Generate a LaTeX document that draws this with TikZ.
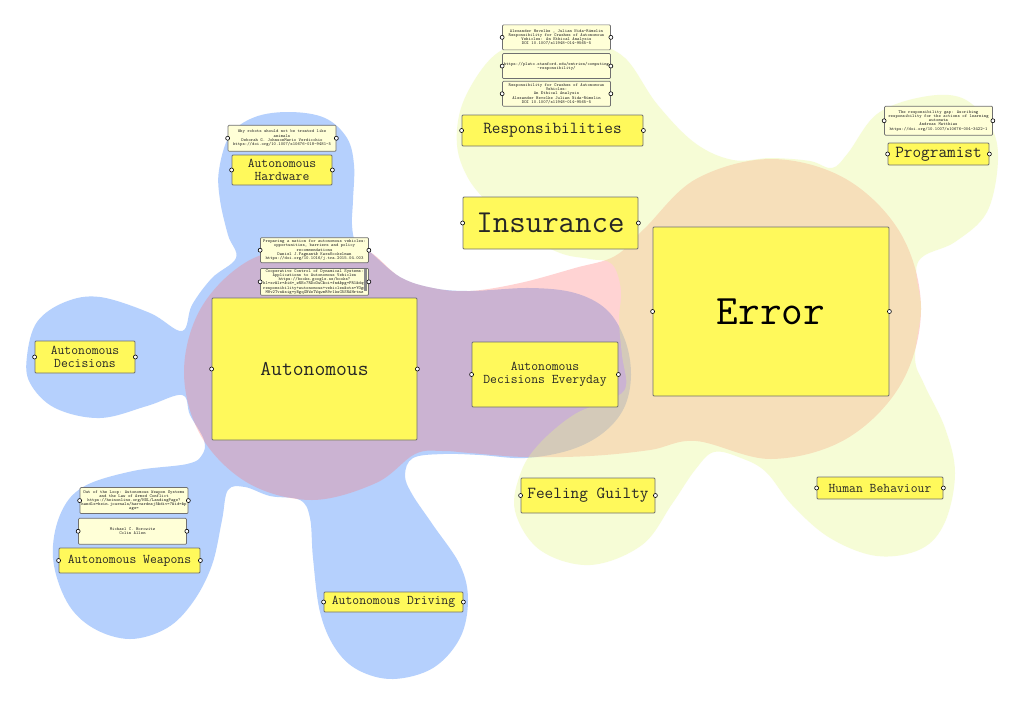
\documentclass[tikz,border=0pt]{standalone}
\usepackage{fontspec}
\usetikzlibrary{positioning}
\definecolor{blobblue}{HTML}{B5D0FD}
\definecolor{blobpink}{HTML}{FF7474}
\definecolor{blobgreen}{HTML}{E6F78C}
\definecolor{topicyellow}{HTML}{FFF95B}
\definecolor{citeyellow}{HTML}{FFFFD7}
\definecolor{edgegrey}{HTML}{707070}
\definecolor{inkgrey}{HTML}{262626}
\definecolor{scrollgrey}{HTML}{8A8A8A}
\newcommand{\citefont}{\ttfamily\fontsize{4.5}{4.2}\selectfont}
\newcommand{\labelfont}{\ttfamily\fontsize{13.3}{13.5}\selectfont}
\newcommand{\midfont}{\ttfamily\fontsize{16.8}{18}\selectfont}
\newcommand{\autofont}{\ttfamily\fontsize{21}{23}\selectfont}
\newcommand{\insurfont}{\ttfamily\fontsize{32}{34}\selectfont}
\newcommand{\errorfont}{\ttfamily\fontsize{42}{46}\selectfont}
\tikzset{
  topicbox/.style={
    rectangle, draw=edgegrey, fill=topicyellow, line width=0.8pt,
    rounded corners=1pt, text=inkgrey, align=center,
    inner sep=2pt, font=\labelfont
  },
  citebox/.style={
    rectangle, draw=edgegrey, fill=citeyellow, line width=0.7pt,
    rounded corners=1pt, text=inkgrey, align=center,
    minimum width=108pt, minimum height=#1, inner sep=1pt, font=\citefont
  },
  citebox/.default=25pt,
  port/.style={draw=black, fill=white, line width=0.6pt},
  blob/.style={smooth cycle, tension=0.6},
}

\begin{document}
\begin{tikzpicture}[x=1pt, y=-1pt]
    \useasboundingbox (0,0) rectangle (1024,705);
    \fill[white] (0,0) rectangle (1024,705);

    % cluster areas
    \fill[blobblue] plot[blob] coordinates {
      (290,112) (325,118) (347,138) (354,165) (353,200) (352,225) (356,243)
      (370,252) (400,277) (433,288) (470,291) (530,288) (575,293) (607,310)
      (625,340) (631,375) (624,408) (603,433) (570,450) (525,458) (480,455)
      (443,454) (413,458) (405,475) (412,494) (433,525) (460,565) (468,600)
      (460,638) (433,668) (393,679) (358,670) (335,648) (320,612) (313,558)
      (310,518) (300,500) (270,496) (245,487) (228,490) (222,520) (212,565)
      (193,602) (167,628) (130,639) (93,628) (67,602) (53,558) (60,515)
      (83,487) (133,471) (187,464) (202,455) (204,440) (190,415) (182,395)
      (147,406) (100,418) (55,408) (30,383) (27,356) (37,322) (65,302)
      (100,297) (150,313) (182,331) (192,305) (212,278) (236,258) (228,235)
      (220,200) (219,170) (230,135) (255,117)};
    \fill[blobpink, opacity=0.31] plot[blob] coordinates {
      (312,244) (345,246) (370,252) (400,277) (433,288) (470,291) (520,283)
      (575,268) (615,256) (645,228) (696,179) (771,159) (846,179) (901,234)
      (921,309) (901,384) (846,439) (771,459) (696,441) (650,450) (590,456)
      (525,457) (470,453) (443,451) (415,454) (376,483) (312,500) (248,483)
      (201,436) (184,372) (201,308) (248,261)};
    \fill[blobgreen, opacity=0.35] plot[blob] coordinates {
      (544,40) (590,43) (625,58) (657,104) (695,143) (733,160) (771,158)
      (810,161) (832,168) (848,153) (877,114) (922,97) (962,98) (990,125)
      (998,160) (987,212) (955,242) (918,262) (921,309) (915,358) (924,384)
      (945,428) (955,473) (945,522) (921,549) (877,556) (830,538) (792,505)
      (766,472) (741,458) (714,452) (695,470) (672,504) (642,545) (590,565)
      (540,550) (515,511) (521,472) (540,443) (575,414) (612,399) (626,386)
      (622,355) (619,320) (621,290) (612,264) (590,259) (560,253) (520,232)
      (490,205) (468,178) (457,145) (462,105) (485,65) (510,46)};

    % Error cluster
    \node[topicbox, minimum width=236pt, minimum height=169pt, font=\errorfont, text=black] (error) at (771,311.5) {Error};
    \node[topicbox, minimum width=175pt, minimum height=52pt, font=\insurfont] (insur) at (550.5,223) {Insurance};
    \node[topicbox, minimum width=181pt, minimum height=31pt, font=\midfont] (resp) at (552.5,130.5) {Responsibilities};
    \node[citebox, above=8pt of resp, xshift=4pt] (citeA3) {Responsibility for Crashes of Autonomous\\Vehicles:\\An Ethical Analysis\\Alexander Hevelke Julian Nida-Rümelin\\DOI 10.1007/s11948-014-9565-5};
    \node[citebox, above=2pt of citeA3] (citeA2) {https://plato.stanford.edu/entries/computing\\-responsibility/};
    \node[citebox, above=3pt of citeA2] (citeA1) {Alexander Hevelke , Julian Nida-Rümelin\\Responsibility for Crashes of Autonomous\\Vehicles: An Ethical Analysis\\DOI 10.1007/s11948-014-9565-5};
    \node[topicbox, minimum width=101pt, minimum height=22pt, font=\midfont] (prog) at (938.5,154) {Programist};
    \node[citebox=29pt, above=7pt of prog] (citeP) {The responsibility gap: Ascribing\\responsibility for the actions of learning\\automata\\Andreas Matthias\\https://doi.org/10.1007/s10676-004-3422-1};
    \node[topicbox, minimum width=126pt, minimum height=22pt] (human) at (880,488) {Human Behaviour};
    \node[topicbox, minimum width=134pt, minimum height=35pt, font=\midfont] (guilty) at (588,495.5) {Feeling Guilty};

    % Autonomous cluster
    \node[topicbox, minimum width=205pt, minimum height=142pt, font=\autofont] (auton) at (314.5,369) {Autonomous};
    \node[topicbox, minimum width=146pt, minimum height=65pt] (everyday) at (545,374.5) {Autonomous\\Decisions Everyday};
    \node[citebox=26pt, above=2pt of auton] (citeB2) {Cooperative Control of Dynamical Systems:\\Applications to Autonomous Vehicles\\https://books.google.se/books?\\hl=sv\&lr=\&id=\_zNBc7RDoOwC\&oi=fnd\&pg=PR1\&dq=\\responsibility+autonomous+vehicles\&ots=YOgo\\M8v2Tvs\&sig=yBgqGNWeTWqwmR9r1ksG5SNAHrtnz};
    \node[citebox, above=5pt of citeB2] (citeB1) {Preparing a nation for autonomous vehicles:\\opportunities, barriers and policy\\recommendations\\Daniel J.Fagnant\& KaraKockelman\\https://doi.org/10.1016/j.tra.2015.04.003};
    \node[topicbox, minimum width=100pt, minimum height=30pt] (hard) at (282,170) {Autonomous\\Hardware};
    \node[citebox=26pt, above=3pt of hard] (citeH) {Why robots should not be treated like\\animals\\Deborah G. JohnsonMario Verdicchio\\https://doi.org/10.1007/s10676-018-9481-5};
    \node[topicbox, minimum width=100pt, minimum height=32pt] (dec) at (85,357) {Autonomous\\Decisions};
    \node[topicbox, minimum width=141pt, minimum height=25pt] (weap) at (129.5,560.5) {Autonomous Weapons};
    \node[citebox=26pt, above=3pt of weap, xshift=3pt] (citeW2) {Michael C. Horowitz\\Colin Allen};
    \node[citebox=26pt, above=4pt of citeW2, xshift=1.5pt] (citeW1) {Out of the Loop: Autonomous Weapon Systems\\and the Law of Armed Conflict\\https://heinonline.org/HOL/LandingPage?\\handle=hein.journals/harvardnsj5\&div=7\&id=\&p\\age=};
    \node[topicbox, minimum width=139pt, minimum height=20pt] (drive) at (393.5,602) {Autonomous Driving};

    \fill[scrollgrey] ([xshift=-5pt, yshift=-1pt]citeB2.north east) rectangle ([xshift=-1.5pt, yshift=5pt]citeB2.south east);

    % ports
    \foreach \n in {error, insur, resp, citeA1, citeA2, citeA3, prog, citeP, human, guilty,
                    auton, everyday, citeB1, citeB2, hard, citeH, dec, weap, citeW1, citeW2, drive} {
      \draw[port] (\n.west) circle (2pt);
      \draw[port] (\n.east) circle (2pt);
    }
\end{tikzpicture}
\end{document}
